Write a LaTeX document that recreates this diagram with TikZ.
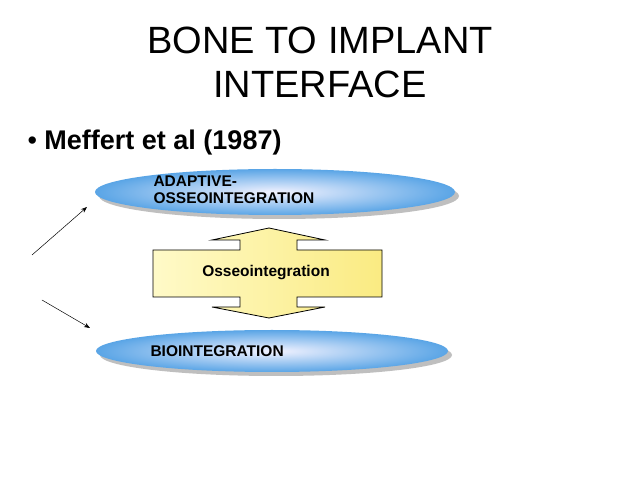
\documentclass[tikz,border=0pt]{standalone}
\usepackage{fontspec}
\setmainfont{Liberation Sans}
\usetikzlibrary{arrows.meta}
\begin{document}
\begin{tikzpicture}[x=1pt,y=-1pt,
  lab/.style={font=\bfseries\fontsize{15.5}{17}\selectfont, align=left, anchor=west},
  thinarr/.style={-{Stealth[length=6pt]}, line width=0.5pt}]
\useasboundingbox (0,0) rectangle (638,478);
\fill[white] (0,0) rectangle (638,478);
\node (t1) at (320,40) {\fontsize{38}{42}\selectfont BONE TO IMPLANT};
\node (t2) at (320,84) {\fontsize{38}{42}\selectfont INTERFACE};
\node[anchor=west] (b) at (24,143) {\fontsize{27}{30}\selectfont • \textbf{Meffert et al (1987)}};
\fill[black!25] (279,196) ellipse [x radius=180, y radius=23];
\shade[inner color=blue!5, outer color={rgb,255:red,90;green,165;blue,230}] (275,192) ellipse [x radius=180, y radius=23];
\node (e1) at (275,192) {};
\node[lab] (l1) at (150,190) {ADAPTIVE-\\OSSEOINTEGRATION};
\fill[black!25] (276,355) ellipse [x radius=176, y radius=21];
\shade[inner color=blue!5, outer color={rgb,255:red,90;green,165;blue,230}] (272,351) ellipse [x radius=176, y radius=21];
\node (e2) at (272,351) {};
\node[lab] (l2) at (147,351) {BIOINTEGRATION};
\path[draw=black, line width=0.8pt, left color={rgb,255:red,255;green,250;blue,200}, right color={rgb,255:red,250;green,235;blue,130}]
 (269,228) -- (325,240) -- (297,240) -- (297,250) -- (382,250) -- (382,297) -- (297,297) -- (297,307)
 -- (325,307) -- (269,318) -- (212,307) -- (240,307) -- (240,297) -- (153,297) -- (153,250) -- (240,250) -- (240,240) -- (212,240) -- cycle;
\node[font=\bfseries\fontsize{15.5}{17}\selectfont] (o) at (266,273) {Osseointegration};
\coordinate (a1) at (32,255); \coordinate (a2) at (87,207);
\coordinate (a3) at (42,300); \coordinate (a4) at (90,328);
\draw[thinarr] (a1) -- (a2);
\draw[thinarr] (a3) -- (a4);
\end{tikzpicture}
\end{document}
